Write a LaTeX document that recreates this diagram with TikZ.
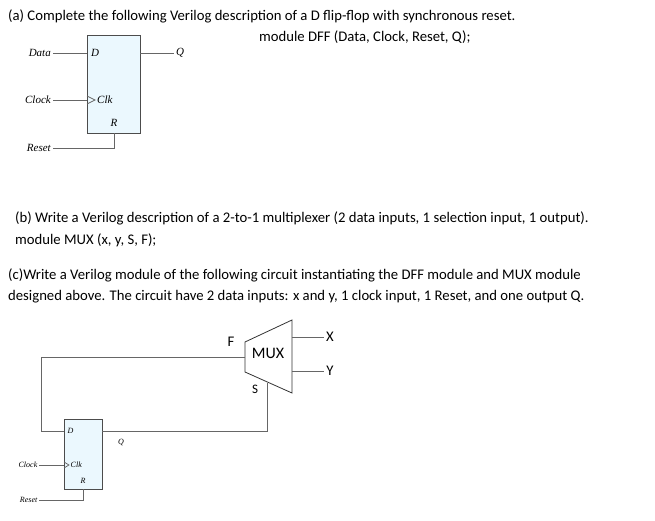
\documentclass[tikz,border=0pt]{standalone}
\usepackage{fontspec}
\setmainfont{Carlito}
\newfontfamily\tms{Liberation Serif}
\begin{document}
\begin{tikzpicture}[x=1pt,y=-1pt,
  txt/.style={anchor=west,inner sep=0pt,font=\fontsize{14.7}{16}\selectfont},
  ff/.style={draw=black!70,fill=cyan!8,line width=0.8pt},
  wire/.style={draw=black!60,line width=0.7pt},
  lab/.style={inner sep=2pt,font=\tms\itshape\fontsize{11}{12}\selectfont},
  slab/.style={inner sep=1.5pt,font=\tms\itshape\fontsize{8}{9}\selectfont}]
\useasboundingbox (0,0) rectangle (655,521);
\node[txt] (ta) at (8,16) {(a) Complete the following Verilog description of a D flip-flop with synchronous reset.};
\node[txt] (tm) at (259,37) {module DFF (Data, Clock, Reset, Q);};
\node[txt] (tb) at (15,218) {(b) Write a Verilog description of a 2-to-1 multiplexer (2 data inputs, 1 selection input, 1 output).};
\node[txt] (tb2) at (15,240) {module MUX (x, y, S, F);};
\node[txt] (tc) at (8,275) {(c)Write a Verilog module of the following circuit instantiating the DFF module and MUX module};
\node[txt] (tc2) at (8,297) {designed above. The circuit have 2 data inputs: x and y, 1 clock input, 1 Reset, and one output Q.};
% top FF
\draw[ff] (87,35) rectangle (140,133);
\node[lab,anchor=west] (d1) at (89,53) {D};
\node[lab,anchor=west] (c1) at (95,100) {Clk};
\node[lab] (r1) at (114,123) {R};
\node[lab,anchor=east] (data) at (53,53) {Data};
\node[lab,anchor=east] (clk) at (53,100) {Clock};
\node[lab,anchor=east] (rst) at (53,148) {Reset};
\node[lab,anchor=west] (q1) at (174,53) {Q};
\draw[wire] (data) -- (87,53);
\draw[wire] (clk) -- (87,100);
\draw[wire] (87,96) -- (95,100) -- (87,104);
\draw[wire] (rst) -- (114,148) -- (114,133);
\draw[wire] (140,53) -- (q1);
% bottom FF
\draw[ff] (64,419) rectangle (102,489);
\node[slab,anchor=west] (d2) at (66,431) {D};
\node[slab,anchor=west] (c2) at (69,465) {Clk};
\node[slab] (r2) at (83,481) {R};
\node[slab,anchor=east] (clk2) at (39,465) {Clock};
\node[slab,anchor=east] (rst2) at (39,500) {Reset};
\node[slab] (q2) at (121,442) {Q};
\draw[wire] (clk2) -- (64,465);
\draw[wire] (64,462) -- (69,465) -- (64,468);
\draw[wire] (rst2) -- (83,500) -- (83,489);
% MUX
\draw[black!80,line width=0.8pt] (245,342) -- (292,320) -- (292,393) -- (245,372) -- cycle;
\node[inner sep=0pt,font=\fontsize{16}{18}\selectfont] (mux) at (268,353) {MUX};
\node[inner sep=0pt,font=\fontsize{14.7}{16}\selectfont] (F) at (231,342) {F};
\node[inner sep=0pt,font=\fontsize{13}{14}\selectfont] (S) at (255,389) {S};
\node[inner sep=2pt,font=\fontsize{14.7}{16}\selectfont] (X) at (330,337) {X};
\node[inner sep=2pt,font=\fontsize{14.7}{16}\selectfont] (Y) at (330,371) {Y};
\draw[wire] (292,337) -- (X);
\draw[wire] (292,371) -- (Y);
\draw[wire] (245,357) -- (41,357) -- (41,431) -- (64,431);
\draw[wire] (102,431) -- (267,431) -- (267,383);
\end{tikzpicture}
\end{document}
